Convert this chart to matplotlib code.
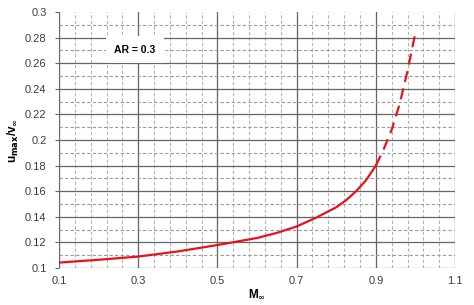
import numpy as np
import matplotlib
matplotlib.use("Agg")
import matplotlib.pyplot as plt

plt.rcParams['font.family'] = ['Liberation Sans', 'DejaVu Sans']

# solid part of the curve
mach_solid = [0.10, 0.20, 0.30, 0.40, 0.50, 0.60, 0.65, 0.70, 0.75, 0.80, 0.825, 0.85, 0.875, 0.90]
u_solid = [0.1043, 0.1065, 0.1090, 0.1130, 0.1180, 0.1235, 0.1275, 0.1325, 0.1395, 0.1475, 0.1530,
           0.1600, 0.1685, 0.1800]
# dashed (extrapolated) part
mach_dash = [0.90, 0.92, 0.94, 0.96, 0.98, 1.00]
u_dash = [0.1800, 0.1930, 0.2080, 0.2280, 0.2540, 0.2840]

xticks = [0.1, 0.3, 0.5, 0.7, 0.9, 1.1]
yticks = [0.1, 0.12, 0.14, 0.16, 0.18, 0.2, 0.22, 0.24, 0.26, 0.28, 0.3]
xminor = [0.1 + 0.04 * i for i in range(26)]
yminor = [0.11, 0.13, 0.15, 0.17, 0.19, 0.21, 0.23, 0.25, 0.27, 0.29]

fig = plt.figure(figsize=(4.74, 3.05), dpi=100)
ax = fig.add_axes([0.1245, 0.121, 0.8355, 0.8397])

for x in xminor:
    ax.axvline(x, color='#b4b4b4', lw=0.8, ls=(0, (3, 2)), zorder=1)
for x in xticks:
    ax.axvline(x, color='#666666', lw=0.9, zorder=1)
for y in yminor:
    ax.axhline(y, color='#9a9a9a', lw=0.8, ls=(0, (3, 2)), zorder=1)
for y in yticks[:-1]:
    ax.axhline(y, color='#666666', lw=0.9, zorder=1)

ax.plot(mach_solid, u_solid, color='#e3141b', lw=1.6, zorder=3)
ax.plot(mach_dash, u_dash, color='#e3141b', lw=1.6, ls=(0, (5, 3)), zorder=3)

ax.text(0.292, 0.2705, 'AR = 0.3', fontsize=7.5, fontweight='bold', ha='center', va='center',
        bbox=dict(facecolor='white', edgecolor='none', pad=6), zorder=4)

ax.set_xlim(0.1, 1.1)
ax.set_ylim(0.1, 0.3)
ax.set_xticks(xticks)
ax.set_xticklabels(['0.1', '0.3', '0.5', '0.7', '0.9', '1.1'])
ax.set_yticks(yticks)
ax.set_yticklabels(['0.1', '0.12', '0.14', '0.16', '0.18', '0.2', '0.22', '0.24', '0.26', '0.28', '0.3'])
ax.tick_params(axis='both', labelsize=8, colors='#3a3a3a', length=0, pad=6)
ax.tick_params(axis='y', length=3, color='#666666', width=0.8)
for s in ax.spines.values():
    s.set_visible(False)

ax.set_xlabel(r'M$_{\infty}$', fontsize=8.5, fontweight='bold', labelpad=1)
ax.set_ylabel(r'u$_{\mathbf{max}}$/v$_{\infty}$', fontsize=8.5, fontweight='bold', labelpad=3)

fig.savefig('out.png', dpi=100)
